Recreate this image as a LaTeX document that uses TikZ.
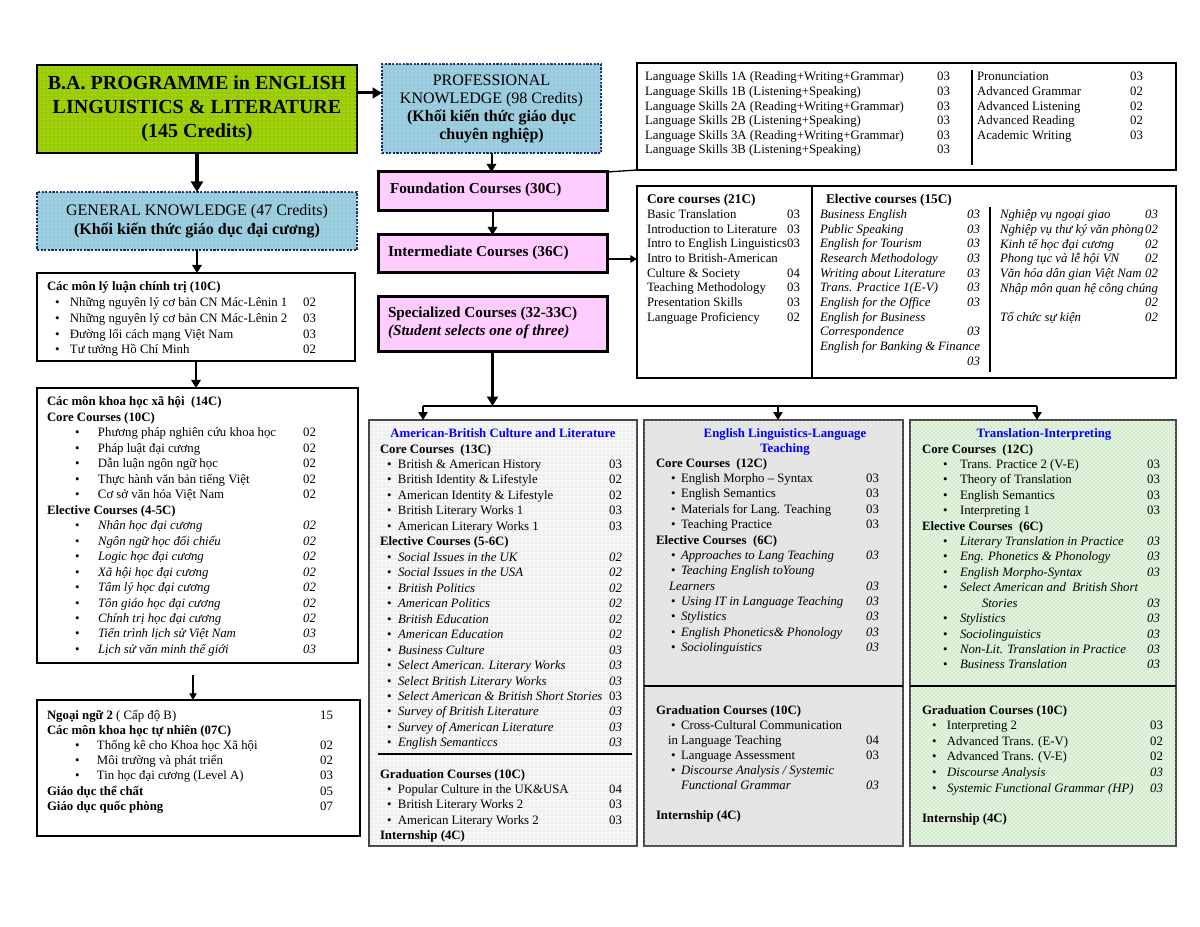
\documentclass[tikz,border=0pt]{standalone}
\usepackage{fontspec}
\setmainfont{Liberation Serif}
\usetikzlibrary{arrows.meta,patterns}
\definecolor{tgreen}{RGB}{153,204,0}
\definecolor{kblue}{RGB}{150,202,220}
\definecolor{kborder}{RGB}{25,45,110}
\definecolor{cpink}{RGB}{255,204,255}
\definecolor{gone}{RGB}{246,246,246}
\definecolor{gtwo}{RGB}{232,232,232}
\definecolor{gthree}{RGB}{226,244,220}
\definecolor{hblue}{RGB}{0,0,255}
\definecolor{bgray}{RGB}{70,70,70}
\newlength\bx \newlength\tx
\newcommand\Lnorm[2]{\par\noindent\hbox to\hsize{#1\hfil#2}}
\newcommand\Lit[2]{\Lnorm{\textit{#1}}{\textit{#2}}}
\newcommand\Lbul[2]{\par\noindent\hbox to\hsize{\hbox to\tx{\hskip\bx\textbullet\hfil}#1\hfil#2}}
\newcommand\Libul[2]{\Lbul{\textit{#1}}{\textit{#2}}}
\newcommand\Lind[3]{\par\noindent\hbox to\hsize{\hskip#1\relax#2\hfil#3}}
\begin{document}
\begin{tikzpicture}[x=0.75pt,y=-0.75pt,
  every node/.style={inner sep=0pt,outer sep=0pt},
  box/.style={anchor=north west,inner sep=0pt,outer sep=0pt},
  kbox/.style={box,fill=kblue,postaction={pattern=dots,pattern color=white!60!kblue},draw=kborder,line width=2pt,dash pattern=on 1.6pt off 1.1pt,align=center},
  pbox/.style={box,fill=cpink,draw=black,line width=2.25pt,minimum width=171.75pt},
  lbox/.style={box,draw=black,line width=0.8pt},
  sbox/.style={box,draw=bgray,line width=0.8pt,minimum width=#1,minimum height=319.5pt},
  ptxt/.style={anchor=west,font=\bfseries\fontsize{11.4}{13.5}\selectfont,align=left},
  blk/.style={anchor=base west},
  hd/.style={anchor=base,text=hblue,font=\bfseries\fontsize{9.6}{11.6}\selectfont},
  arr/.style={-{Triangle[length=6pt,width=7pt]}},
  arrs/.style={-{Triangle[length=5pt,width=5.5pt]}}]
\useasboundingbox (0,0) rectangle (1200,927);
\fill[white] (0,0) rectangle (1200,927);

% ---------- top left ----------
\node[box,fill=tgreen,postaction={pattern=dots,pattern color=white!55!tgreen},draw=black,line width=1.5pt,minimum width=240pt,minimum height=66pt,align=center,
  font=\bfseries\fontsize{15}{18}\selectfont] (title) at (37,65)
  {B.A. PROGRAMME in ENGLISH\\LINGUISTICS \& LITERATURE\\(145 Credits)};
\node[kbox,minimum width=164.25pt,minimum height=66.75pt,font=\fontsize{12}{13.5}\selectfont] (prof) at (382,64)
  {PROFESSIONAL\\KNOWLEDGE (98 Credits)\\\textbf{(Khối kiến thức giáo dục}\\\textbf{chuyên nghiệp)}};
\node[kbox,minimum width=240pt,minimum height=43.5pt,font=\fontsize{12}{14.25}\selectfont] (gen) at (37,192)
  {GENERAL KNOWLEDGE (47 Credits)\\\textbf{(Khối kiến thức giáo dục đại cương)}};

% ---------- pink boxes ----------
\node[pbox,minimum height=29.25pt] (found) at (378,172) {};
\node[ptxt] (foundt) at (390,190) {Foundation Courses (30C)};
\node[pbox,minimum height=28.5pt] (inter) at (378,235) {};
\node[ptxt] (intert) at (388,253) {Intermediate Courses (36C)};
\node[pbox,minimum height=41.25pt] (spec) at (378,297) {};
\node[ptxt] (spect) at (388,323) {Specialized Courses (32-33C)\\\textit{(Student selects one of three)}};

% ---------- language skills box ----------
\node[lbox,minimum width=404.25pt,minimum height=80.25pt] (lang) at (637,63) {};
\draw[line width=0.8pt] (972,70) -- (972,165);
\node[blk] (langl) at (645,81) {\parbox[t]{228.75pt}{\fontsize{9.6}{10.95}\selectfont%
\Lnorm{Language Skills 1A (Reading+Writing+Grammar)}{03}
\Lnorm{Language Skills 1B (Listening+Speaking)}{03}
\Lnorm{Language Skills 2A (Reading+Writing+Grammar)}{03}
\Lnorm{Language Skills 2B (Listening+Speaking)}{03}
\Lnorm{Language Skills 3A (Reading+Writing+Grammar)}{03}
\Lnorm{Language Skills 3B (Listening+Speaking)}{03}}};
\node[blk] (langr) at (977,81) {\parbox[t]{124.5pt}{\fontsize{9.6}{10.95}\selectfont%
\Lnorm{Pronunciation}{03}
\Lnorm{Advanced Grammar}{02}
\Lnorm{Advanced Listening}{02}
\Lnorm{Advanced Reading}{02}
\Lnorm{Academic Writing}{03}}};

% ---------- core / elective box ----------
\node[lbox,minimum width=404.25pt,minimum height=144pt] (cores) at (637,186) {};
\draw[line width=0.8pt] (812,186) -- (812,378);
\draw[line width=0.8pt] (990,207) -- (990,372);
\node[blk] (corec) at (647,204) {\parbox[t]{114.75pt}{\fontsize{9.6}{11}\selectfont%
\Lnorm{\textbf{\fontsize{10}{11}\selectfont Core courses (21C)}}{}
\Lnorm{Basic Translation}{03}
\Lnorm{Introduction to Literature}{03}
\Lnorm{Intro to English Linguistics}{03}
\Lnorm{Intro to British-American}{}
\Lnorm{Culture \& Society}{04}
\Lnorm{Teaching Methodology}{03}
\Lnorm{Presentation Skills}{03}
\Lnorm{Language Proficiency}{02}}};
\node[blk] (elec) at (820,204) {\parbox[t]{120pt}{\fontsize{9.6}{11}\selectfont%
\Lnorm{\hskip4.5pt\textbf{\fontsize{10}{11}\selectfont Elective courses (15C)}}{}
\Lit{Business English}{03}
\Lit{Public Speaking}{03}
\Lit{English for Tourism}{03}
\Lit{Research Methodology}{03}
\Lit{Writing about Literature}{03}
\Lit{Trans. Practice 1(E-V)}{03}
\Lit{English for the Office}{03}
\Lit{English for Business}{}
\Lit{Correspondence}{03}
\Lit{English for Banking \& Finance}{}
\Lit{}{03}}};
\node[blk] (elecv) at (1000,218.7) {\parbox[t]{118.5pt}{\fontsize{9.6}{11}\selectfont%
\Lit{Nghiệp vụ ngoại giao}{03}
\Lit{Nghiệp vụ thư ký văn phòng}{02}
\Lit{Kinh tế học đại cương}{02}
\Lit{Phong tục và lễ hội VN}{02}
\Lit{Văn hóa dân gian Việt Nam}{02}
\Lit{Nhập môn quan hệ công chúng}{}
\Lit{}{02}
\Lit{Tổ chức sự kiện}{02}}};

% ---------- left column ----------
\node[lbox,minimum width=238.5pt,minimum height=66pt] (boxA) at (37,273) {};
\node[blk] (boxAt) at (47,291) {\parbox[t]{201.75pt}{\fontsize{9.6}{11.8}\selectfont\setlength\bx{6pt}\setlength\tx{17.25pt}%
\Lnorm{\textbf{Các môn lý luận chính trị (10C)}}{}
\Lbul{Những nguyên lý cơ bản CN Mác-Lênin 1}{02}
\Lbul{Những nguyên lý cơ bản CN Mác-Lênin 2}{03}
\Lbul{Đường lối cách mạng Việt Nam}{03}
\Lbul{Tư tưởng Hồ Chí Minh}{02}}};
\node[lbox,minimum width=240.75pt,minimum height=206.25pt] (boxB) at (37,388) {};
\node[blk] (boxBt) at (47,406) {\parbox[t]{201.75pt}{\fontsize{9.6}{11.6}\selectfont\setlength\bx{21pt}\setlength\tx{38.25pt}%
\Lnorm{\textbf{Các môn khoa học xã hội\ \ (14C)}}{}
\Lnorm{\textbf{Core Courses (10C)}}{}
\Lbul{Phương pháp nghiên cứu khoa học}{02}
\Lbul{Pháp luật đại cương}{02}
\Lbul{Dẫn luận ngôn ngữ học}{02}
\Lbul{Thực hành văn bản tiếng Việt}{02}
\Lbul{Cơ sở văn hóa Việt Nam}{02}
\Lnorm{\textbf{Elective Courses (4-5C)}}{}
\Libul{Nhân học đại cương}{02}
\Libul{Ngôn ngữ học đối chiếu}{02}
\Libul{Logic học đại cương}{02}
\Libul{Xã hội học đại cương}{02}
\Libul{Tâm lý học đại cương}{02}
\Libul{Tôn giáo học đại cương}{02}
\Libul{Chính trị học đại cương}{02}
\Libul{Tiến trình lịch sử Việt Nam}{03}
\Libul{Lịch sử văn minh thế giới}{03}}};
\node[lbox,minimum width=242.25pt,minimum height=102pt] (boxC) at (37,700) {};
\node[blk] (boxCt) at (47,719) {\parbox[t]{214.5pt}{\fontsize{9.6}{11.4}\selectfont\setlength\bx{21pt}\setlength\tx{37.5pt}%
\Lnorm{\textbf{Ngoại ngữ 2} ( Cấp độ B)}{15}
\Lnorm{\textbf{Các môn khoa học tự nhiên (07C)}}{}
\Lbul{Thống kê cho Khoa học Xã hội}{02}
\Lbul{Môi trường và phát triển}{02}
\Lbul{Tin học đại cương (Level A)}{03}
\Lnorm{\textbf{Giáo dục thể chất}}{05}
\Lnorm{\textbf{Giáo dục quốc phòng}}{07}}};

% ---------- specialisation boxes ----------
\node[sbox=201pt,fill=gone,postaction={pattern=dots,pattern color=black!22}] (s1) at (369,420) {};
\node[sbox=194.25pt,fill=gtwo,postaction={pattern=crosshatch dots,pattern color=black!20}] (s2) at (644,420) {};
\node[sbox=199.5pt,fill=gthree,postaction={pattern=crosshatch dots,pattern color=green!40!black!30}] (s3) at (910,420) {};
\draw[line width=1pt] (378,754) -- (632,754);
\draw[line width=1.5pt] (644,686) -- (903,686);
\draw[line width=1.5pt] (910,686) -- (1176,686);

\node[hd] (s1h) at (503,437.5) {American-British Culture and Literature};
\node[blk] (s1a) at (380,453) {\parbox[t]{181.5pt}{\fontsize{9.6}{11.6}\selectfont\setlength\bx{5.25pt}\setlength\tx{13.5pt}%
\Lnorm{\textbf{Core Courses\ \ (13C)}}{}
\Lbul{British \& American History}{03}
\Lbul{British Identity \& Lifestyle}{02}
\Lbul{American Identity \& Lifestyle}{02}
\Lbul{British Literary Works 1}{03}
\Lbul{American Literary Works 1}{03}
\Lnorm{\textbf{Elective Courses (5-6C)}}{}
\Libul{Social Issues in the UK}{02}
\Libul{Social Issues in the USA}{02}
\Libul{British Politics}{02}
\Libul{American Politics}{02}
\Libul{British Education}{02}
\Libul{American Education}{02}
\Libul{Business Culture}{03}
\Libul{Select American. Literary Works}{03}
\Libul{Select British Literary Works}{03}
\Lbul{\textit{Select American \& British Short Stories}}{03}
\Libul{Survey of British Literature}{03}
\Libul{Survey of American Literature}{03}
\Libul{English Semanticcs}{03}}};
\node[blk] (s1b) at (380,778) {\parbox[t]{181.5pt}{\fontsize{9.6}{11.6}\selectfont\setlength\bx{5.25pt}\setlength\tx{13.5pt}%
\Lnorm{\textbf{Graduation Courses (10C)}}{}
\Lbul{Popular Culture in the UK\&USA}{04}
\Lbul{British Literary Works 2}{03}
\Lbul{American Literary Works 2}{03}
\Lnorm{\textbf{Internship (4C)}}{}}};

\node[hd,anchor=base] (s2h) at (785,437.5) {\parbox[t]{190pt}{\centering\fontsize{9.6}{11.6}\selectfont English Linguistics-Language\\Teaching}};
\node[blk] (s2a) at (656,467) {\parbox[t]{167.25pt}{\fontsize{9.6}{11.55}\selectfont\setlength\bx{11.25pt}\setlength\tx{18.75pt}%
\Lnorm{\textbf{Core Courses\ \ (12C)}}{}
\Lbul{English Morpho – Syntax}{03}
\Lbul{English Semantics}{03}
\Lbul{Materials for Lang. Teaching}{03}
\Lbul{Teaching Practice}{03}
\Lnorm{\textbf{Elective Courses\ \ (6C)}}{}
\Libul{Approaches to Lang Teaching}{03}
\Libul{Teaching English toYoung}{}
\Lind{9.75pt}{\textit{Learners}}{\textit{03}}
\Libul{Using IT in Language Teaching}{03}
\Libul{Stylistics}{03}
\Libul{English Phonetics\& Phonology}{03}
\Libul{Sociolinguistics}{03}}};
\node[blk] (s2b) at (656,714) {\parbox[t]{167.25pt}{\fontsize{9.6}{11.3}\selectfont\setlength\bx{11.25pt}\setlength\tx{18.75pt}%
\Lnorm{\textbf{Graduation Courses (10C)}}{}
\Lbul{Cross-Cultural Communication}{}
\Lind{9pt}{in Language Teaching}{04}
\Lbul{Language Assessment}{03}
\Libul{Discourse Analysis / Systemic}{}
\Lind{18.75pt}{\textit{Functional Grammar}}{\textit{03}}}};
\node[blk,font=\bfseries\fontsize{9.6}{11.6}\selectfont] (s2c) at (656,819) {Internship (4C)};

\node[hd] (s3h) at (1044,437.5) {Translation-Interpreting};
\node[blk] (s3a) at (922,453) {\parbox[t]{178.5pt}{\fontsize{9.6}{11.57}\selectfont\setlength\bx{15.75pt}\setlength\tx{28.5pt}%
\Lnorm{\textbf{Core Courses\ \ (12C)}}{}
\Lbul{Trans. Practice 2 (V-E)}{03}
\Lbul{Theory of Translation}{03}
\Lbul{English Semantics}{03}
\Lbul{Interpreting 1}{03}
\Lnorm{\textbf{Elective Courses\ \ (6C)}}{}
\Libul{Literary Translation in Practice}{03}
\Libul{Eng. Phonetics \& Phonology}{03}
\Libul{English Morpho-Syntax}{03}
\Libul{Select American and\ \ British Short}{}
\Lind{45pt}{\textit{Stories}}{\textit{03}}
\Libul{Stylistics}{03}
\Libul{Sociolinguistics}{03}
\Libul{Non-Lit. Translation in Practice}{03}
\Libul{Business Translation}{03}}};
\node[blk] (s3b) at (922,714) {\parbox[t]{180.75pt}{\fontsize{9.6}{11.7}\selectfont\setlength\bx{7.5pt}\setlength\tx{18.75pt}%
\Lnorm{\textbf{Graduation Courses (10C)}}{}
\Lbul{Interpreting 2}{03}
\Lbul{Advanced Trans. (E-V)}{02}
\Lbul{Advanced Trans. (V-E)}{02}
\Libul{Discourse Analysis}{03}
\Libul{Systemic Functional Grammar (HP)}{03}}};
\node[blk,font=\bfseries\fontsize{9.6}{11.6}\selectfont] (s3c) at (922,822) {Internship (4C)};

% ---------- connectors ----------
\coordinate (t1) at ([yshift=-21pt]title.north east);
\draw[line width=2.25pt,-{Triangle[length=7pt,width=8pt]}] (t1) -- (t1 -| prof.west);
\draw[line width=3pt,-{Triangle[length=8pt,width=9pt]}] (title.south) -- (gen.north);
\draw[line width=1.5pt,arr] (prof.south) -- (prof.south |- found.north);
\draw[line width=1.5pt,arr] (found.south) -- (inter.north);
\draw[line width=1pt] (found.north east) -- (lang.south west);
\coordinate (i1) at ([yshift=-3.75pt]inter.east);
\draw[line width=1pt,arrs] (i1) -- (i1 -| cores.west);
\coordinate (b1) at (423,406);
\coordinate (b2) at (778,406);
\coordinate (b3) at (1037,406);
\draw[line width=2.25pt,-{Triangle[length=7pt,width=8pt]}] (spec.south) -- (spec.south |- b1);
\draw[line width=1.2pt] (b1) -- (b3);
\draw[line width=1.2pt,arr] (b1) -- (b1 |- s1.north);
\draw[line width=1.2pt,arr] (b2) -- (b2 |- s2.north);
\draw[line width=1.2pt,arr] (b3) -- (b3 |- s3.north);
\draw[line width=1.5pt,arr] (gen.south) -- (gen.south |- boxA.north);
\draw[line width=1.5pt,arr] (boxA.south) -- (boxA.south |- boxB.north);
\coordinate (c1) at (193,675);
\draw[line width=0.8pt,arrs] (c1) -- (c1 |- boxC.north);
\end{tikzpicture}
\end{document}
